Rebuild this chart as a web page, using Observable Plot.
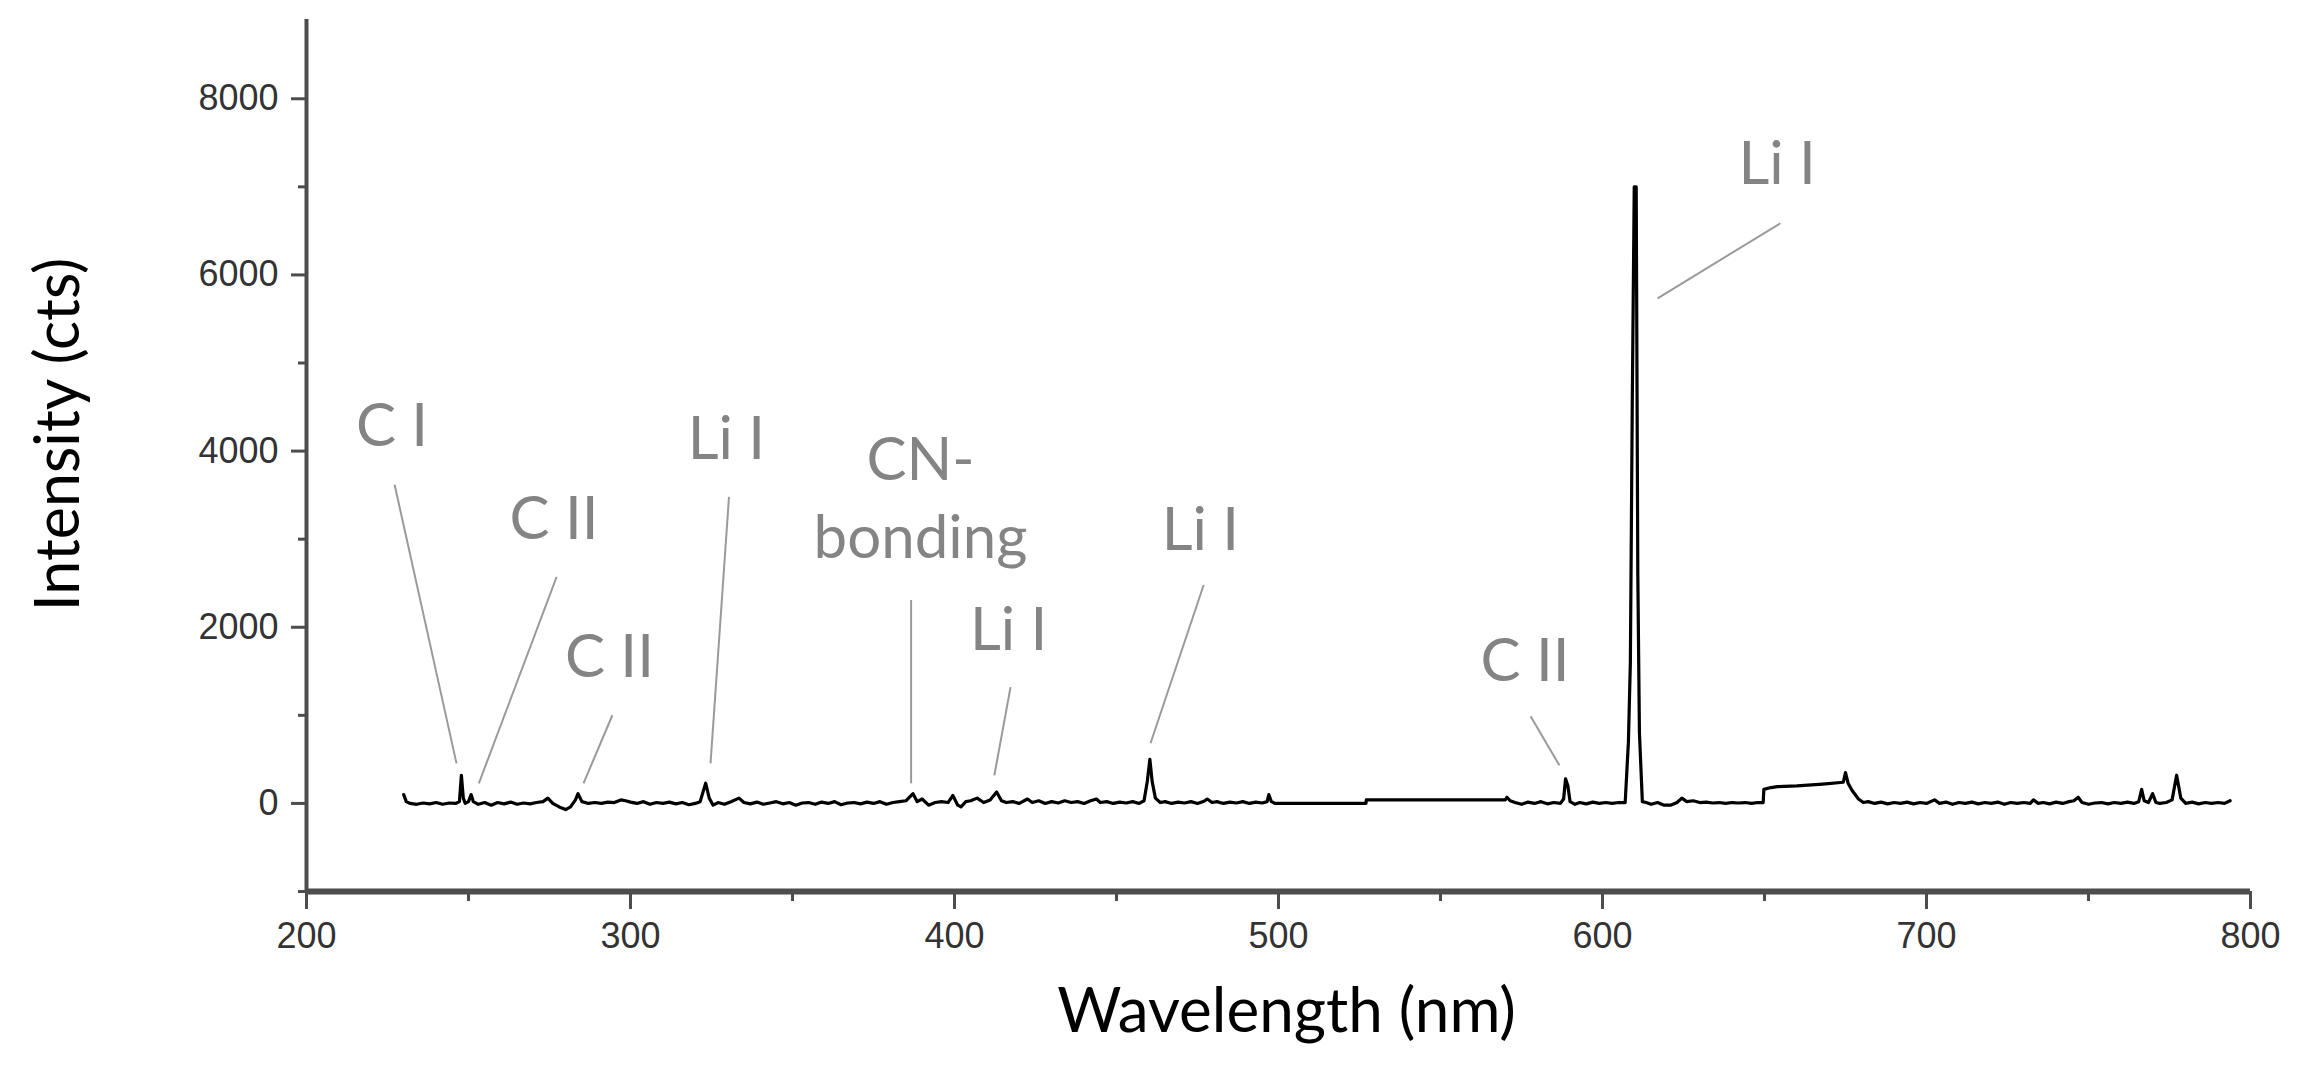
<!DOCTYPE html>
<html>
<head>
<meta charset="utf-8">
<script src="https://cdn.jsdelivr.net/npm/d3@7"></script>
<script src="https://cdn.jsdelivr.net/npm/@observablehq/plot@0.6"></script>
<style>
  html, body { margin: 0; padding: 0; background: #fff; }
  #chart svg { display: block; }
</style>
</head>
<body>
<div id="chart"></div>
<script>
// ---- Spectrum data ----
const wavelength = [
  230, 230.8, 232, 234, 236, 238, 240, 242, 244, 246, 247.2, 247.8, 248.4, 249, 250, 250.8, 251.5, 253, 255, 257,
  259, 261, 263, 265, 267, 269, 271, 273, 274.5, 276, 278, 280, 281.5, 283, 283.8, 285, 287, 289, 291, 293,
  295, 297, 298.5, 300, 302, 304, 306, 308, 310, 312, 314, 316, 318, 320, 321.5, 323.2, 324.3, 325.5, 327, 329,
  331, 333.5, 335, 337, 339, 341, 343, 345, 347, 349, 351, 353, 355, 357, 359, 361, 363, 365, 367, 369,
  371, 373, 375, 377, 379, 381, 383, 385, 387.2, 388.5, 390, 392, 394, 396, 398, 399.5, 401, 402, 403.5, 405,
  407, 409, 411, 413, 414.5, 416, 418, 420, 422.5, 424, 426, 428, 430, 432, 434, 436, 438, 440, 442, 443.8,
  445, 447, 449, 451, 453, 455, 457, 458.5, 459.5, 460.3, 461, 462, 463.5, 465, 467, 469, 471, 473, 475, 477,
  478, 479.5, 481, 483, 485, 487, 489, 491, 493, 495, 496.5, 497, 497.8, 499, 527, 527.1, 570, 570.5, 571.5, 573,
  575, 577, 579, 581, 583, 585, 587, 588, 588.6, 589.3, 590, 591.5, 593, 595, 597, 599, 601, 603, 605, 607,
  608, 608.6, 609.2, 609.8, 610.4, 610.9, 611.4, 612.3, 613.5, 615, 617, 619, 621, 623, 624.5, 626, 628, 630, 632, 634,
  636, 638, 640, 642, 644, 646, 648, 649.6, 649.8, 652, 654, 660, 668, 674.3, 675, 675.8, 677, 679, 680.5, 682,
  684, 686, 688, 690, 692, 694, 696, 698, 700, 702.5, 704, 706, 708, 710, 712, 714, 716, 718, 720, 722,
  724, 726, 728, 730, 732, 733, 734.5, 736, 738, 740, 742, 744, 745.5, 746.8, 748, 750, 752, 754, 756, 758,
  760, 762, 764, 765.5, 766.4, 767.2, 768.5, 769.8, 770.8, 772, 774, 775.8, 777.2, 778.5, 780, 782, 784, 786, 788, 790,
  792, 793.7
];
const intensity = [
  100, 20, 0, -10, 5, -5, 10, -10, 5, 0, 20, 320, 60, 0, 20, 100, 20, -10, 10, -20,
  10, -5, 15, -10, 5, -5, 10, 20, 60, 0, -40, -70, -40, 40, 110, 20, 0, 10, 0, 15,
  10, 40, 30, 15, 0, 20, -10, 10, 0, 15, -5, 10, -15, 0, 20, 230, 60, -20, 10, -10,
  20, 60, 10, -5, 15, -10, 5, 20, -5, 10, -20, 5, 10, -10, 15, 0, 20, -15, 5, 10,
  -5, 15, 0, 20, -10, 10, 20, 30, 110, 20, 50, -20, 10, 20, 10, 90, -20, -40, 20, 30,
  60, 10, 40, 130, 30, 10, 20, 0, 50, 10, 30, 0, 20, 5, 30, 10, 20, 0, 30, 50,
  10, 20, 0, 15, 5, 20, 0, 30, 250, 500, 250, 60, 10, 20, 0, 15, 5, 20, 0, 25,
  50, 10, 20, 0, 15, 5, 20, 0, 15, 5, 20, 100, 20, 0, 0, 40, 40, 70, 30, 10,
  -10, 15, 0, 20, -5, 10, 0, 50, 280, 200, 20, -10, 10, -5, 15, 0, 10, 0, 10, 10,
  700, 1600, 4600, 7000, 7000, 2600, 800, 20, 10, -10, 10, -20, -20, 10, 60, 20, 30, 10, 15, 5,
  10, 0, 10, 5, 10, 0, 10, 10, 160, 180, 190, 200, 220, 240, 350, 230, 150, 50, 10, 20,
  0, 15, -5, 10, 0, 15, -5, 10, 0, 40, 0, 15, -10, 10, 0, 15, -5, 10, 0, 15,
  -10, 10, 0, 10, 0, 40, 0, 10, -5, 15, 0, 20, 30, 70, 10, -10, 5, 10, -5, 10,
  0, 15, 0, 20, 160, 30, 10, 110, 10, 0, 10, 40, 320, 60, 0, 15, -5, 10, 0, 10,
  0, 30
];

// ---- Axis ticks ----
const xTicks = [200, 300, 400, 500, 600, 700, 800];
const xMinorTicks = [250, 350, 450, 550, 650, 750];
const yTicks = [0, 2000, 4000, 6000, 8000];
const yMinorTicks = [-1000, 1000, 3000, 5000, 7000];

// ---- Peak annotations ----
const labelText = ["C I", "C II", "C II", "Li I", "CN-\nbonding", "Li I", "Li I", "C II", "Li I"];
const labelX = [226.4, 276.4, 293.5, 329.6, 389.5, 416.7, 475.9, 576.1, 653.9];
const labelY = [4340, 3282, 1724, 4192, 3515, 2025, 3157, 1678, 7315];
const leaderX1 = [227.2, 277.2, 294.4, 330.4, 386.6, 417.3, 476.9, 577.8, 654.9];
const leaderY1 = [3618, 2571, 1001, 3481, 2309, 1320, 2480, 990, 6587];
const leaderX2 = [246.3, 253.2, 285.5, 324.7, 386.6, 412.3, 460.5, 586.7, 617.0];
const leaderY2 = [455, 228, 228, 455, 228, 319, 683, 432, 5734];

const spectrum = wavelength.map((nm, i) => ({nm, cts: intensity[i]}));
const notes = labelText.map((text, i) => ({
  text, x: labelX[i], y: labelY[i],
  x1: leaderX1[i], y1: leaderY1[i], x2: leaderX2[i], y2: leaderY2[i]
}));

const axisColor = "#4d4d4d";
const chart = Plot.plot({
  width: 2306,
  height: 1079,
  marginLeft: 306,
  marginRight: 56,
  marginTop: 19,
  marginBottom: 188,
  x: {domain: [200, 800], label: null},
  y: {domain: [-1000, 8900], label: null},
  style: {fontFamily: "'Liberation Sans', Arial, sans-serif", fontSize: "36px", color: "#333", background: "white"},
  marks: [
    Plot.axisX({ticks: xTicks, tickFormat: d3.format("d"), tickSize: 18, tickPadding: 13, stroke: axisColor, strokeWidth: 3, fontSize: 36, fill: "#333", label: null}),
    Plot.axisX({ticks: xMinorTicks, tickSize: 10, text: null, stroke: axisColor, strokeWidth: 3, label: null}),
    Plot.axisY({ticks: yTicks, tickFormat: d3.format("d"), tickSize: 15, tickPadding: 13, stroke: axisColor, strokeWidth: 3, fontSize: 36, fill: "#333", label: null}),
    Plot.axisY({ticks: yMinorTicks, tickSize: 8, text: null, stroke: axisColor, strokeWidth: 3, label: null}),
    Plot.ruleY([-1000], {stroke: axisColor, strokeWidth: 6}),
    Plot.ruleX([200], {stroke: axisColor, strokeWidth: 4}),
    Plot.link(notes, {x1: "x1", y1: "y1", x2: "x2", y2: "y2", stroke: "#9a9a9a", strokeWidth: 2}),
    Plot.line(spectrum, {x: "nm", y: "cts", stroke: "black", strokeWidth: 3.2, curve: "linear"}),
    Plot.text(notes, {x: "x", y: "y", text: "text", fill: "#848484", fontSize: 60, fontFamily: "Lato", lineAnchor: "middle", lineHeight: 1.3, textAnchor: "middle"}),
    Plot.text(["Wavelength (nm)"], {frameAnchor: "bottom", dx: 8, dy: 121, lineAnchor: "middle", textAnchor: "middle", fontSize: 62, fontFamily: "Lato", fill: "black"}),
    Plot.text(["Intensity (cts)"], {frameAnchor: "left", dx: -247, dy: -21, rotate: -90, lineAnchor: "middle", textAnchor: "middle", fontSize: 61, fontFamily: "Lato", fill: "black", letterSpacing: 1})
  ]
});
document.getElementById("chart").appendChild(chart);
</script>
</body>
</html>
